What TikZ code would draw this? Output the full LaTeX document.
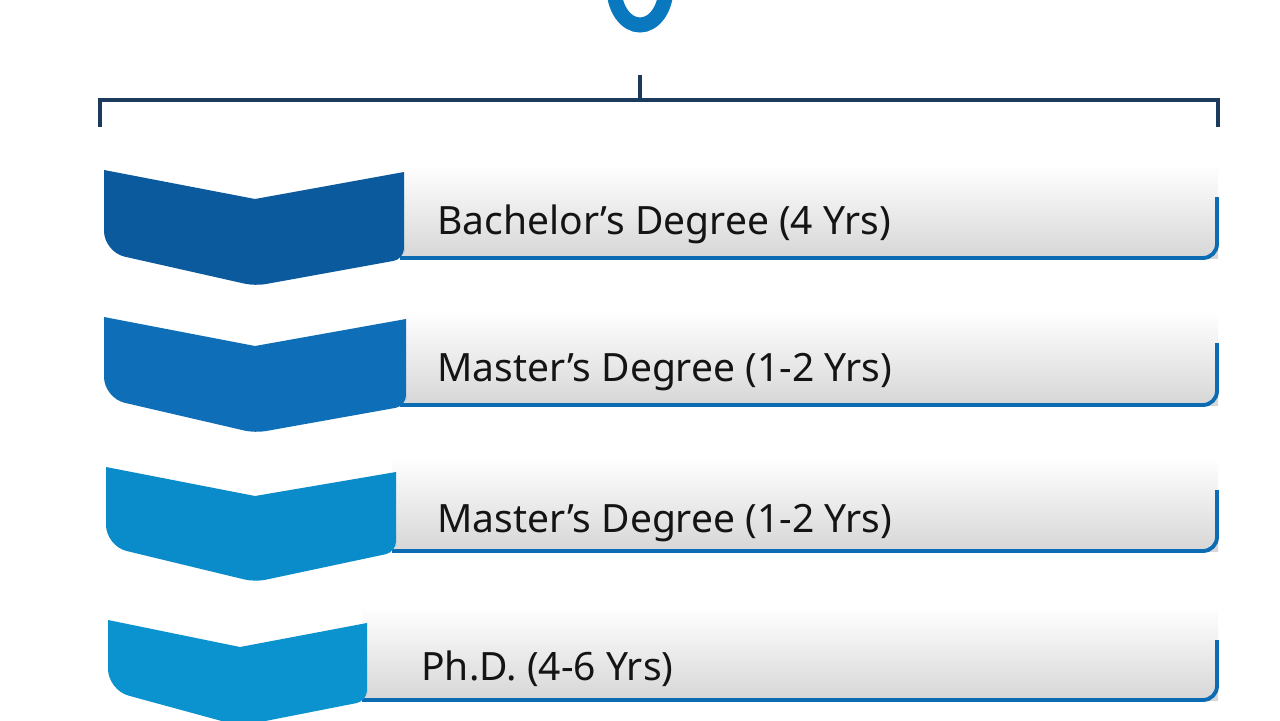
\documentclass[tikz,border=0pt]{standalone}
\usepackage{fontspec}
\setmainfont{Noto Sans}
\usetikzlibrary{calc}
\definecolor{navy}{HTML}{1B3A5C}
\definecolor{pinblue}{HTML}{0A78BE}
\definecolor{blueA}{HTML}{0B5A9E}
\definecolor{blueB}{HTML}{0E6FB8}
\definecolor{blueC}{HTML}{0A8CCB}
\definecolor{blueD}{HTML}{0B93CF}
\definecolor{barline}{HTML}{0B6CB4}
\tikzset{
  bracket/.style={draw=navy, line width=2.8pt},
  bar/.style={top color=white, bottom color=black!16, draw=none},
  barrim/.style={draw=barline, line width=2.2pt, rounded corners=8pt},
  degree/.style={anchor=base west, inner sep=0pt, text=black!92, font=\fontsize{22.2}{26}\selectfont},
}

\begin{document}
\begin{tikzpicture}[x=0.02cm, y=-0.02cm]
			\useasboundingbox (0, 0) rectangle (1280, 720);
			%%%%% START %%%%%
			\fill[white] (0, 0) rectangle (1280, 720);
			
			% pin at the top
			\begin{scope}
			\clip (0, 0) rectangle (1280, 720);
			\draw[pinblue, line width=8.5pt] (640, -12) ellipse (26 and 37);
			\end{scope}
			
			% bracket
			\coordinate (stem) at (640, 75);
			\coordinate (joint) at (640, 100);
			\coordinate (lefttip) at (100, 127);
			\coordinate (righttip) at (1218, 127);
			\draw[bracket] (stem) -- (joint);
			\draw[bracket] (lefttip) |- (joint) -| (righttip);
			
			% row 1
			\fill[bar] (400, 165) rectangle (1218, 258);
			\draw[barrim] (400, 258) -- (1217, 258) -- (1217, 197);
			\fill[blueA] (104, 170) -- (255, 199) -- (404, 172) -- (404, 252) [rounded corners=6pt] -- (404, 259) -- (255, 286) [rounded corners=12pt] -- (104, 252) [sharp corners] -- cycle;
			\node[degree] (bachelor) at (437, 234) {Bachelor’s Degree (4 Yrs)};
			
			% row 2
			\fill[bar] (400, 312) rectangle (1218, 405);
			\draw[barrim] (400, 405) -- (1217, 405) -- (1217, 343);
			\fill[blueB] (104, 317) -- (255, 346) -- (406, 319) -- (406, 400) [rounded corners=6pt] -- (406, 406) -- (255, 433) [rounded corners=12pt] -- (104, 398) [sharp corners] -- cycle;
			\node[degree] (master1) at (437, 381) {Master’s Degree (1-2 Yrs)};
			
			% row 3
			\fill[bar] (392, 458) rectangle (1218, 551);
			\draw[barrim] (392, 551) -- (1217, 551) -- (1217, 490);
			\fill[blueC] (106, 467) -- (255, 496) -- (396, 472) -- (396, 546) [rounded corners=6pt] -- (396, 552) -- (255, 582) [rounded corners=12pt] -- (106, 546) [sharp corners] -- cycle;
			\node[degree] (master2) at (437, 532) {Master’s Degree (1-2 Yrs)};
			
			% row 4
			\fill[bar] (362, 607) rectangle (1218, 700);
			\draw[barrim] (362, 700) -- (1217, 700) -- (1217, 640);
			\fill[blueD] (108, 620) -- (240, 647) -- (367, 623) -- (367, 694) [rounded corners=6pt] -- (367, 701) -- (240, 726) [rounded corners=12pt] -- (108, 690) [sharp corners] -- cycle;
			\node[degree] (phd) at (421, 680) {Ph.D. (4-6 Yrs)};
			%%%%% END %%%%%
\end{tikzpicture}
\end{document}
